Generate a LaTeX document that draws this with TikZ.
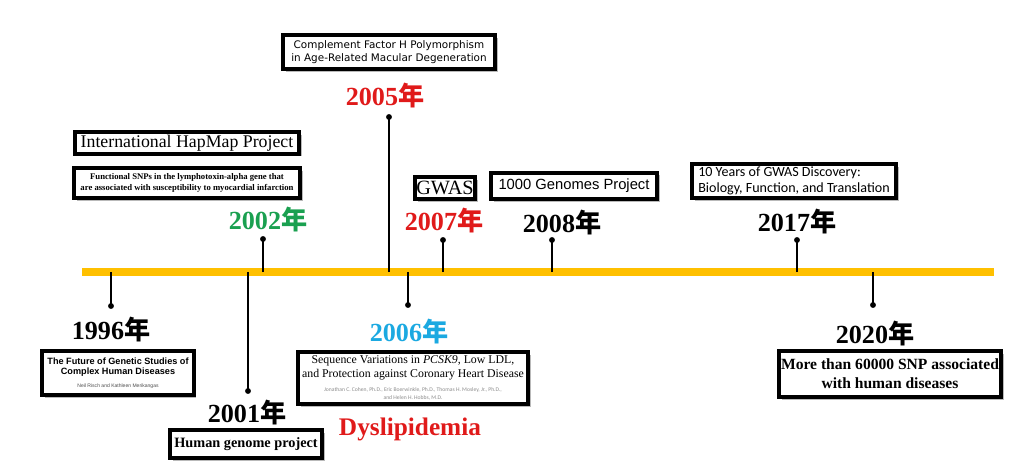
\documentclass[tikz,border=0pt]{standalone}
\usepackage{fontspec}
\setmainfont{Liberation Serif}
\newfontfamily\arialfont{Liberation Sans}
\newfontfamily\calfont{Carlito}
\newfontfamily\tahfont{DejaVu Sans}
\newfontfamily\cjk{Noto Sans CJK SC}
\usepackage{xcolor}
\usetikzlibrary{shadows,positioning}
\definecolor{barcol}{HTML}{FFC000}
\definecolor{greencol}{HTML}{1AA050}
\definecolor{redcol}{HTML}{E01A1A}
\definecolor{bluecol}{HTML}{1BA9E1}
\newcommand{\yr}[1]{#1{\cjk 年}}
\newcommand{\authorline}{\calfont\fontsize{4.8}{5.6}\selectfont\color{black!45}}

\begin{document}
\begin{tikzpicture}[x=0.03cm, y=-0.03cm,
  paper/.style={draw=black, line width=3.4pt, fill=white, inner sep=1pt, align=center,
    drop shadow={opacity=0.55, shadow xshift=2.5pt, shadow yshift=-2.5pt}},
  year/.style={font=\fontsize{22.3}{24}\selectfont\bfseries},
  tick/.style={line width=2.4pt, black},
  dot/.style={circle, fill=black, inner sep=0pt, minimum size=5pt}
]
  \useasboundingbox (0,0) rectangle (1026,476);
  % timeline
  \coordinate (start) at (82,272);
  \coordinate (stop) at (994,272);
  \draw[barcol, line width=7.5pt] (start) -- (stop);
  % ticks on the bar
  \coordinate (b1996) at (111,272); \node[dot] (d1996) at (111,306) {};
  \coordinate (b2001) at (248,272); \node[dot] (d2001) at (248,391) {};
  \coordinate (b2002) at (263,272); \node[dot] (d2002) at (263,239) {};
  \coordinate (b2005) at (389,272); \node[dot] (d2005) at (389,117) {};
  \coordinate (b2006) at (408,272); \node[dot] (d2006) at (408,305) {};
  \coordinate (b2007) at (443,272); \node[dot] (d2007) at (443,240) {};
  \coordinate (b2008) at (552,272); \node[dot] (d2008) at (552,240) {};
  \coordinate (b2017) at (797,272); \node[dot] (d2017) at (797,240) {};
  \coordinate (b2020) at (873,272); \node[dot] (d2020) at (873,305) {};
  \draw[tick] (b1996) -- (d1996.center);
  \draw[tick] (b2001) -- (d2001.center);
  \draw[tick] (b2002) -- (d2002.center);
  \draw[tick] (b2005) -- (d2005.center);
  \draw[tick] (b2006) -- (d2006.center);
  \draw[tick] (b2007) -- (d2007.center);
  \draw[tick] (b2008) -- (d2008.center);
  \draw[tick] (b2017) -- (d2017.center);
  \draw[tick] (b2020) -- (d2020.center);
  % years
  \node[year] (y1996) at (111,330) {\yr{1996}};
  \node[year] (y2001) at (247,413) {\yr{2001}};
  \node[year, greencol] (y2002) at (268,220) {\yr{2002}};
  \node[year, redcol] (y2005) at (385,96) {\yr{2005}};
  \node[year, bluecol] (y2006) at (409,332) {\yr{2006}};
  \node[year, redcol] (y2007) at (444,221) {\yr{2007}};
  \node[year] (y2008) at (562,223) {\yr{2008}};
  \node[year] (y2017) at (797,222) {\yr{2017}};
  \node[year] (y2020) at (875,334) {\yr{2020}};
  % papers and projects
  \node[paper, minimum width=129pt, minimum height=37pt,
    font=\arialfont\bfseries\fontsize{7.8}{9}\selectfont] (future) at (118,373)
    {The Future of Genetic Studies of\\Complex Human Diseases\\[2pt]
     \mdseries\fontsize{4.3}{5}\selectfont\color{black!70}Neil Risch and Kathleen Merikangas};
  \node[paper, minimum width=130pt, minimum height=24pt,
    font=\bfseries\fontsize{12.2}{14}\selectfont] (human) at (246,444) {Human genome project};
  \node[paper, minimum width=192pt, minimum height=18pt,
    font=\fontsize{15.2}{17}\selectfont] (hapmap) at (187,143) {International HapMap Project};
  \node[paper, minimum width=193pt, minimum height=26pt,
    font=\bfseries\fontsize{7.4}{9}\selectfont] (snps) at (187,183)
    {Functional SNPs in the lymphotoxin-alpha gene that\\are associated with susceptibility to myocardial infarction};
  \node[paper, minimum width=181pt, minimum height=29pt,
    font=\tahfont\fontsize{8.9}{11}\selectfont] (cfh) at (389,52)
    {Complement Factor H Polymorphism\\in Age-Related Macular Degeneration};
  \node[paper, minimum width=196pt, minimum height=45pt,
    font=\fontsize{10.1}{11.5}\selectfont] (pcsk) at (413,378)
    {Sequence Variations in \textit{PCSK9}, Low LDL,\\and Protection against Coronary Heart Disease\\[1pt]
     \authorline Jonathan C. Cohen, Ph.D., Eric Boerwinkle, Ph.D., Thomas H. Mosley, Jr., Ph.D.,\\[-5pt]
     \authorline and Helen H. Hobbs, M.D.};
  \node[font=\fontsize{21.6}{23}\selectfont\bfseries, redcol] (dys) at (410,429) {Dyslipidemia};
  \node[paper, minimum width=51pt, minimum height=19pt,
    font=\fontsize{17.3}{19}\selectfont] (gwas) at (445,188) {GWAS};
  \node[paper, minimum width=141pt, minimum height=23pt,
    font=\arialfont\fontsize{12.6}{14}\selectfont] (genomes) at (574,186) {1000 Genomes Project};
  \node[paper, minimum width=174pt, minimum height=29pt, align=left,
    font=\calfont\fontsize{12}{13.5}\selectfont] (tenyears) at (794,181)
    {10 Years of GWAS Discovery:\\Biology, Function, and Translation};
  \node[paper, minimum width=190pt, minimum height=39pt,
    font=\bfseries\fontsize{13.3}{16}\selectfont] (more) at (890,374)
    {More than 60000 SNP associated\\with human diseases};
\end{tikzpicture}
\end{document}
